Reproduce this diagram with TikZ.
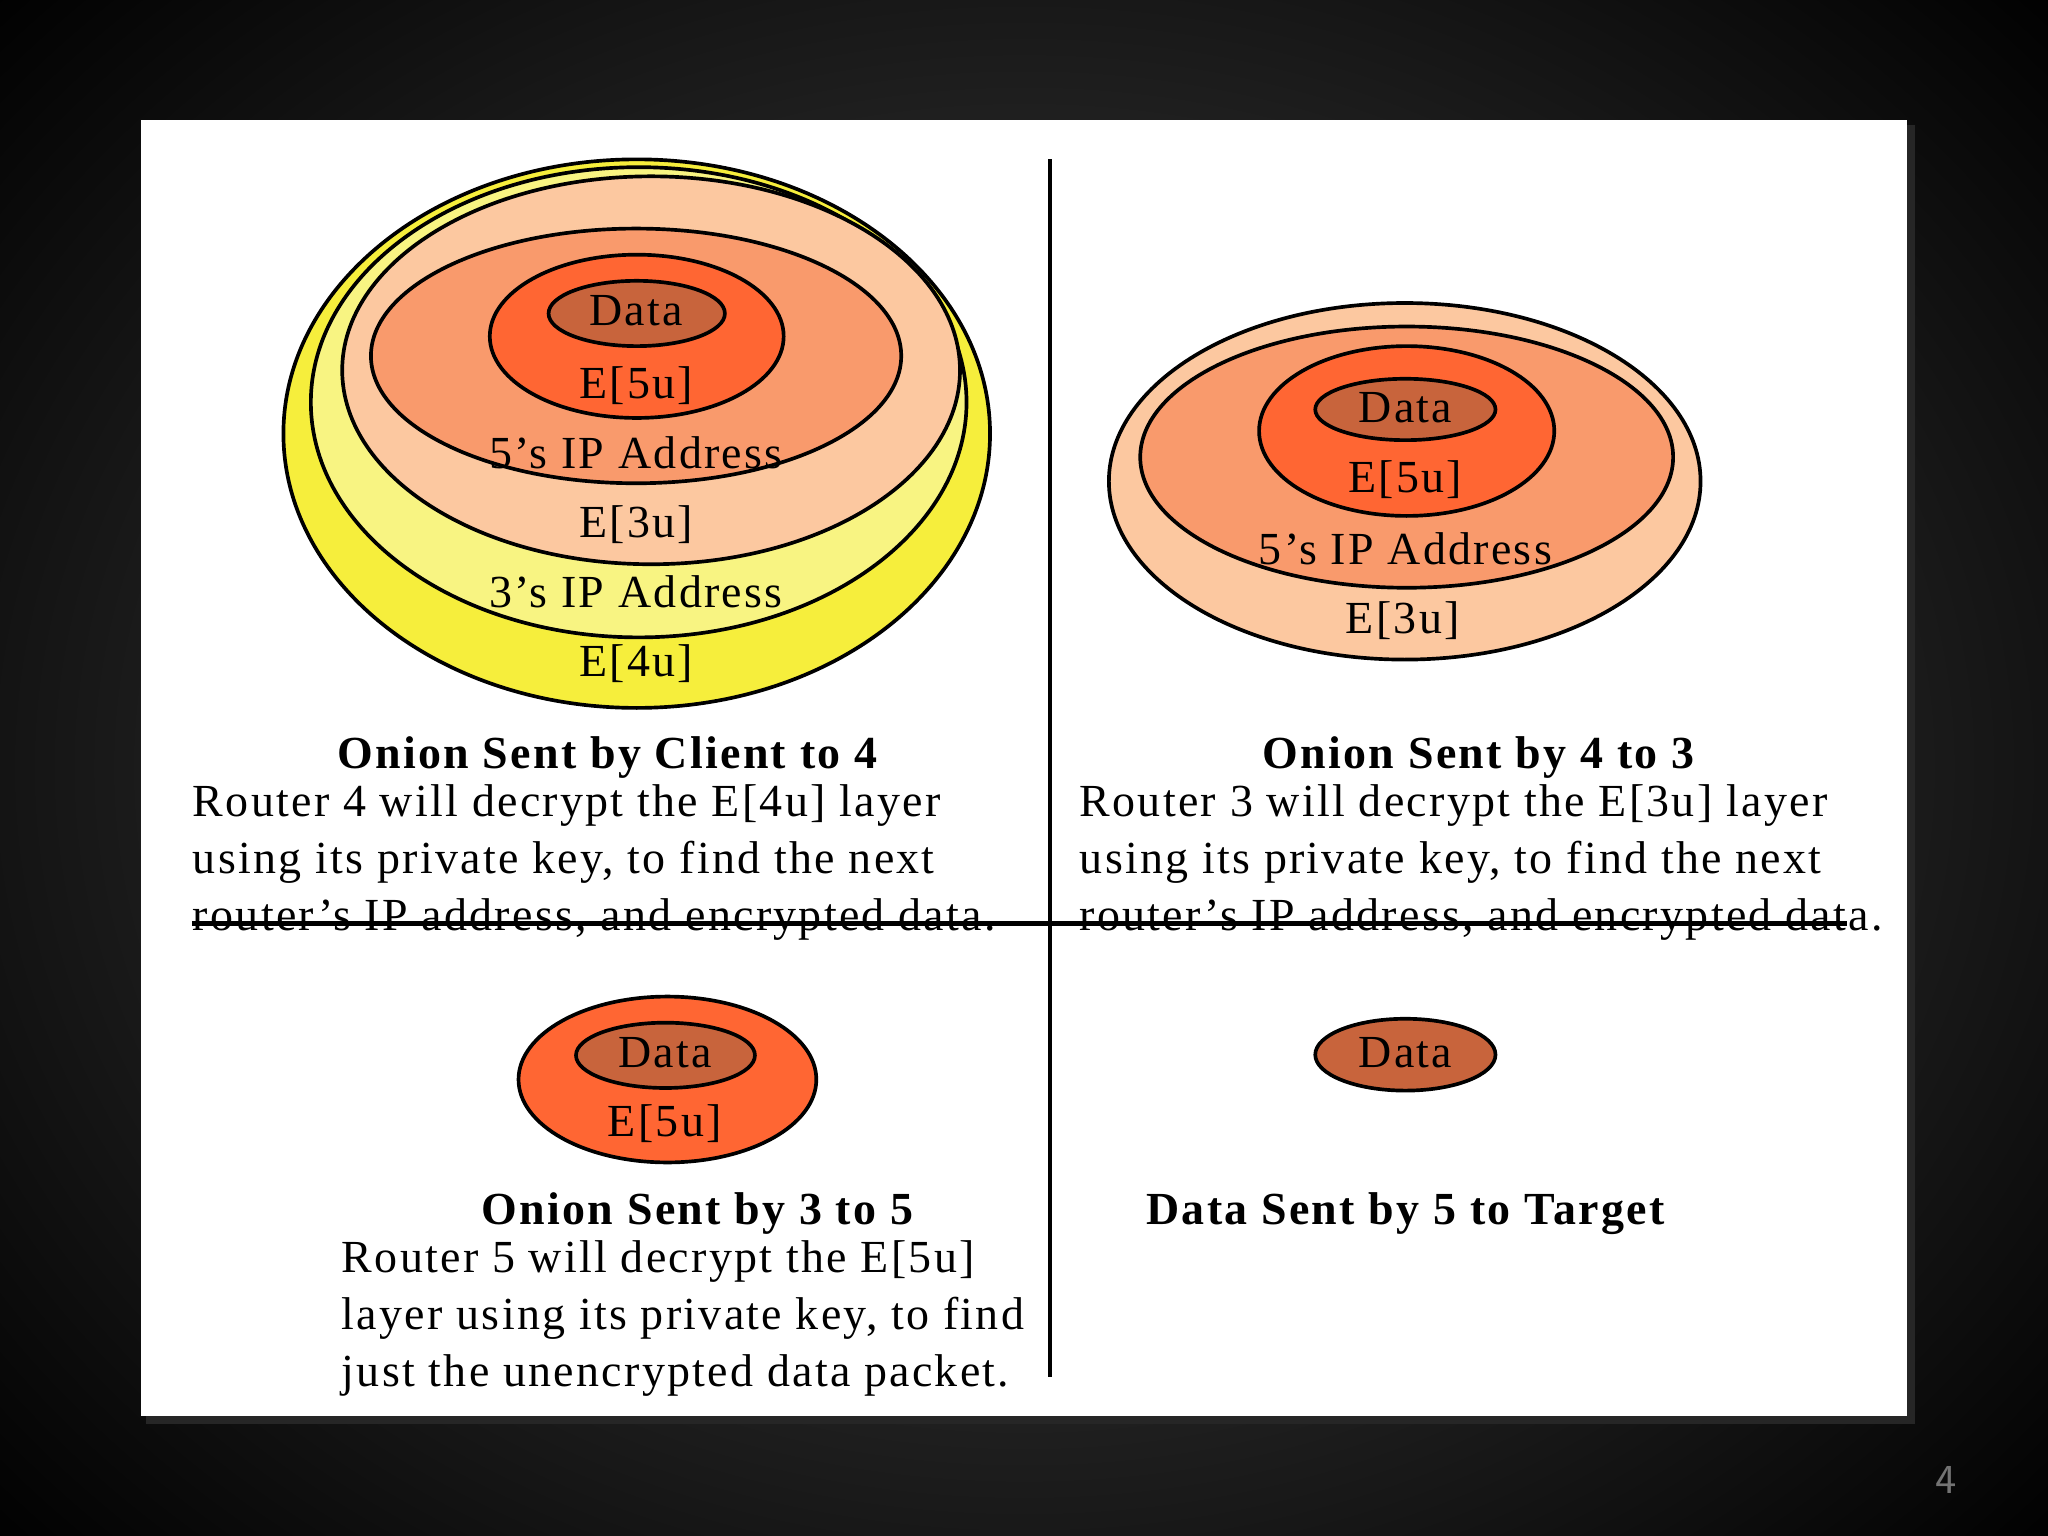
\documentclass[tikz,border=0pt]{standalone}
\usepackage{fontspec}
\setmainfont{Liberation Serif}[LetterSpace=5]
\begin{document}
\begin{tikzpicture}[x=0.01cm,y=-0.01cm,
  lay/.style={draw=black,line width=0.8pt},
  lbl/.style={font=\fontsize{10}{12}\selectfont,inner sep=0pt},
  captitle/.style={font=\fontsize{10}{12}\selectfont\bfseries,inner sep=0pt},
  body/.style={font=\fontsize{10}{12.4}\selectfont,inner sep=0pt,align=left,anchor=north west}]
\useasboundingbox (0,0) rectangle (1568,1176);
\shade[inner color=black!72,outer color=black] (-300,-300) rectangle (1868,1476);
\fill[black!85] (112,96) rectangle (1466,1090);
\fill[white] (108,92) rectangle (1460,1084);
\draw[line width=1pt] (804,122) -- (804,1054);
\draw[line width=1pt] (147,707) -- (1414,707);
% onion 1
\draw[lay,fill={rgb,255:red,246;green,238;blue,60}] (487.5,332) ellipse (270.5 and 210);
\draw[lay,fill={rgb,255:red,248;green,244;blue,130}] (489,308) ellipse (251 and 180);
\draw[lay,fill={rgb,255:red,252;green,200;blue,160}] (498.5,283.5) ellipse (236.5 and 148.5);
\draw[lay,fill={rgb,255:red,249;green,154;blue,108}] (487,272.5) ellipse (203 and 97.5);
\draw[lay,fill={rgb,255:red,255;green,102;blue,51}] (487.5,257.5) ellipse (112.5 and 62.5);
\draw[lay,fill={rgb,255:red,200;green,100;blue,60}] (487.5,240) ellipse (67.5 and 25);
\node[lbl] (a1) at (487,238) {Data};
\node[lbl] (a2) at (487,295) {E[5u]};
\node[lbl] (a3) at (487,347) {5's IP Address};
\node[lbl] (a4) at (487,402) {E[3u]};
\node[lbl] (a5) at (487,453) {3's IP Address};
\node[lbl] (a6) at (487,508) {E[4u]};
% onion 2
\draw[lay,fill={rgb,255:red,252;green,200;blue,160}] (1075.5,368.5) ellipse (226.5 and 136.5);
\draw[lay,fill={rgb,255:red,249;green,154;blue,108}] (1077,350) ellipse (204 and 100);
\draw[lay,fill={rgb,255:red,255;green,102;blue,51}] (1077,330) ellipse (113 and 65);
\draw[lay,fill={rgb,255:red,200;green,100;blue,60}] (1076,313.5) ellipse (69 and 23.5);
\node[lbl] (b1) at (1076,312) {Data};
\node[lbl] (b2) at (1076,367) {E[5u]};
\node[lbl] (b3) at (1076,420) {5's IP Address};
\node[lbl] (b4) at (1074,475) {E[3u]};
% onion 3
\draw[lay,fill={rgb,255:red,255;green,102;blue,51}] (511,826.5) ellipse (114 and 63.5);
\draw[lay,fill={rgb,255:red,200;green,100;blue,60}] (509.5,808) ellipse (68.5 and 25);
\node[lbl] (c1) at (509,806) {Data};
\node[lbl] (c2) at (509,860) {E[5u]};
% onion 4
\draw[lay,fill={rgb,255:red,200;green,100;blue,60}] (1076,807.5) ellipse (69 and 27.5);
\node[lbl] (d1) at (1076,806) {Data};
% captions
\node[captitle] (t1) at (465,580) {Onion Sent by Client to 4};
\node[body] (p1) at (147,600) {Router 4 will decrypt the E[4u] layer\\using its private key, to find the next\\router's IP address, and encrypted data.};
\node[captitle] (t2) at (1132,580) {Onion Sent by 4 to 3};
\node[body] (p2) at (826,600) {Router 3 will decrypt the E[3u] layer\\using its private key, to find the next\\router's IP address, and encrypted data.};
\node[captitle] (t3) at (534,929) {Onion Sent by 3 to 5};
\node[body] (p3) at (261,949) {Router 5 will decrypt the E[5u]\\layer using its private key, to find\\just the unencrypted data packet.};
\node[captitle] (t4) at (1076,929) {Data Sent by 5 to Target};
\node[font=\sffamily\fontsize{9}{10}\selectfont,text=black!55] (pg) at (1490,1133) {4};
\end{tikzpicture}
\end{document}
